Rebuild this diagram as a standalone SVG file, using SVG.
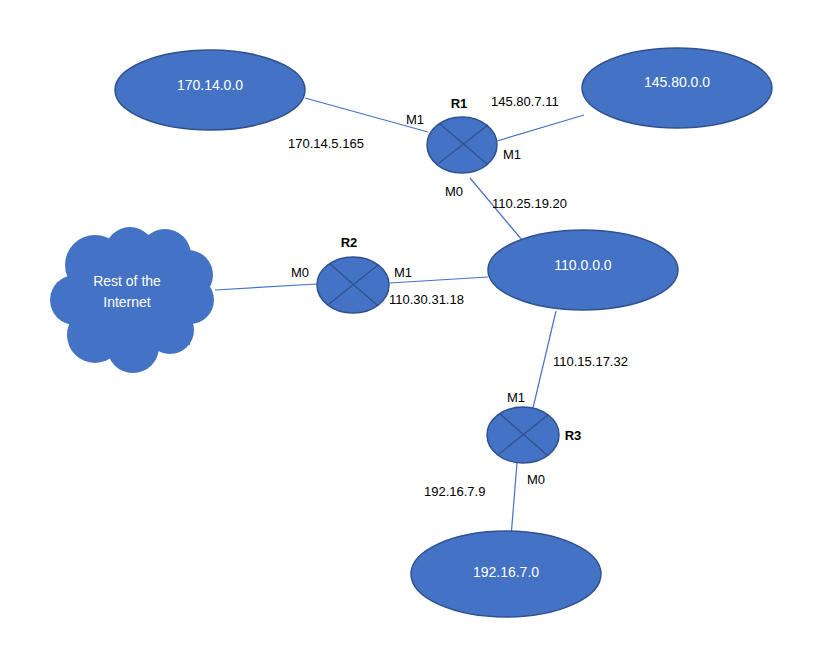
<svg xmlns="http://www.w3.org/2000/svg" width="826" height="658" viewBox="0 0 826 658">
<style>
.net{fill:#4472C4;stroke:#2F528F;stroke-width:1.5}
.x{stroke:#2F528F;stroke-width:1.3}
.ln{stroke:#4472C4;stroke-width:1.2;fill:none}
.w{fill:#fff;font-family:"Liberation Sans",sans-serif;font-size:14px;text-anchor:middle}
.t{fill:#000;font-family:"Liberation Sans",sans-serif;font-size:13px}
.b{font-weight:bold;text-anchor:middle}
</style>
<rect width="826" height="658" fill="#fff"/>
<g id="connectors">
<line class="ln" x1="305" y1="98" x2="428" y2="132"/>
<line class="ln" x1="584" y1="115" x2="497" y2="141"/>
<line class="ln" x1="470" y1="178" x2="522" y2="240"/>
<line class="ln" x1="215" y1="290" x2="317" y2="284"/>
<line class="ln" x1="389" y1="283" x2="488" y2="277"/>
<line class="ln" x1="556" y1="311" x2="533" y2="408"/>
<line class="ln" x1="517" y1="463" x2="511" y2="537"/>
</g>
<g id="net170"><ellipse class="net" cx="210" cy="90" rx="95" ry="40"/><text class="w" x="210" y="90">170.14.0.0</text></g>
<g id="net145"><ellipse class="net" cx="677" cy="88" rx="95" ry="40"/><text class="w" x="677" y="87">145.80.0.0</text></g>
<g id="net110"><ellipse class="net" cx="583" cy="270" rx="95" ry="40"/><text class="w" x="583" y="270">110.0.0.0</text></g>
<g id="net192"><ellipse class="net" cx="506" cy="574" rx="95" ry="43"/><text class="w" x="506" y="577">192.16.7.0</text></g>
<g id="cloud">
<g class="net" style="stroke:none">
<circle cx="95" cy="265" r="30"/><circle cx="130" cy="252" r="25"/><circle cx="165" cy="255" r="26"/><circle cx="188" cy="275" r="25"/>
<circle cx="190" cy="300" r="24"/><circle cx="170" cy="330" r="24"/><circle cx="133" cy="347" r="26"/><circle cx="95" cy="335" r="28"/>
<circle cx="75" cy="300" r="25"/><rect x="80" y="260" width="110" height="85"/>
</g>
<text class="w" x="127" y="286">Rest of the</text><text class="w" x="127" y="307">Internet</text>
</g>
<g id="R1"><ellipse class="net" cx="462" cy="145" rx="35" ry="28"/><line class="x" x1="440" y1="124" x2="487" y2="164"/><line class="x" x1="488" y1="125" x2="439" y2="163"/><text class="t b" x="459" y="108">R1</text></g>
<g id="R2"><ellipse class="net" cx="353" cy="285" rx="36" ry="28"/><line class="x" x1="330" y1="264" x2="377" y2="305"/><line class="x" x1="378" y1="265" x2="329" y2="304"/><text class="t b" x="349" y="247">R2</text></g>
<g id="R3"><ellipse class="net" cx="523" cy="435" rx="36" ry="28"/><line class="x" x1="500" y1="414" x2="547" y2="455"/><line class="x" x1="548" y1="415" x2="499" y2="454"/><text class="t b" x="573" y="440">R3</text></g>
<g id="labels">
<text class="t" x="406" y="124">M1</text>
<text class="t" x="288" y="148">170.14.5.165</text>
<text class="t" x="491" y="106">145.80.7.11</text>
<text class="t" x="503" y="159">M1</text>
<text class="t" x="445" y="196">M0</text>
<text class="t" x="492" y="208">110.25.19.20</text>
<text class="t" x="291" y="277">M0</text>
<text class="t" x="394" y="277">M1</text>
<text class="t" x="389" y="304">110.30.31.18</text>
<text class="t" x="553" y="366">110.15.17.32</text>
<text class="t" x="507" y="402">M1</text>
<text class="t" x="527" y="484">M0</text>
<text class="t" x="424" y="496">192.16.7.9</text>
</g>
</svg>
